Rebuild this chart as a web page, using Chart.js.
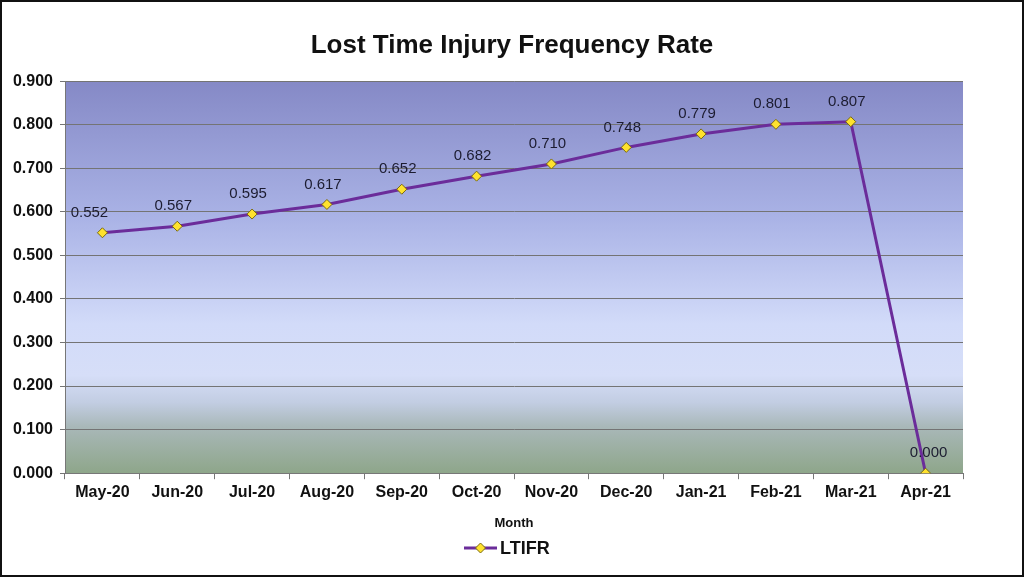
<!DOCTYPE html>
<html>
<head>
<meta charset="utf-8">
<script src="https://cdn.jsdelivr.net/npm/chart.js@4.4.1/dist/chart.umd.min.js"></script>
<style>
  html, body { margin: 0; padding: 0; background: #fff; }
  #wrap { width: 1024px; height: 577px; box-sizing: border-box; border: 2px solid #111; position: relative; }
  canvas { display: block; }
</style>
</head>
<body>
<div id="wrap"><canvas id="ltifrChart" width="1020" height="573"></canvas></div>
<script>
// data
const months = ['May-20', 'Jun-20', 'Jul-20', 'Aug-20', 'Sep-20', 'Oct-20', 'Nov-20', 'Dec-20', 'Jan-21', 'Feb-21', 'Mar-21', 'Apr-21'];
const ltifr = [0.552, 0.567, 0.595, 0.617, 0.652, 0.682, 0.710, 0.748, 0.779, 0.801, 0.807, 0.000];
const seriesName = 'LTIFR';
const chartTitle = 'Lost Time Injury Frequency Rate';

const lineColor = '#6b2c9a';
const markerFill = '#ffe22e';
const markerEdge = '#7a6a10';
const FONT = '"Liberation Sans", Arial, sans-serif';

// gradient background behind the plot
const plotBackground = {
    id: 'plotBackground',
    beforeDraw(chart) {
        const { ctx, chartArea: a } = chart;
        const g = ctx.createLinearGradient(0, a.top, 0, a.bottom);
        g.addColorStop(0, '#8589c6');
        g.addColorStop(0.35, '#aab3e6');
        g.addColorStop(0.62, '#d2dbf9');
        g.addColorStop(0.75, '#d6def8');
        g.addColorStop(0.82, '#c2cde2');
        g.addColorStop(0.88, '#a9b8b9');
        g.addColorStop(1, '#8ea68a');
        ctx.save();
        ctx.fillStyle = g;
        ctx.fillRect(a.left, a.top, a.right - a.left, a.bottom - a.top);
        ctx.restore();
    }
};

// value labels above each point
const valueLabels = {
    id: 'valueLabels',
    afterDatasetsDraw(chart) {
        const { ctx } = chart;
        const meta = chart.getDatasetMeta(0);
        ctx.save();
        ctx.font = '15px ' + FONT;
        ctx.fillStyle = '#1c1c30';
        ctx.textAlign = 'center';
        ctx.textBaseline = 'middle';
        meta.data.forEach((pt, i) => {
            let dx = -4;
            if (i === 0) dx = -13;
            if (i === meta.data.length - 1) dx = 3;
            ctx.fillText(ltifr[i].toFixed(3), pt.x + dx, pt.y - 20);
        });
        ctx.restore();
    }
};

// title centred on the whole picture (the built-in one only reserves the space)
const pageTitle = {
    id: 'pageTitle',
    afterDraw(chart) {
        const { ctx } = chart;
        const t = chart.titleBlock;
        ctx.save();
        ctx.fillStyle = '#111';
        ctx.font = 'bold 26px ' + FONT;
        ctx.textAlign = 'center';
        ctx.textBaseline = 'middle';
        ctx.fillText(chartTitle, chart.width / 2, t.top + 28 + 15.6);
        ctx.restore();
    }
};

// legend drawn by hand: line with diamond, then the name
const legendBox = {
    id: 'legendBox',
    afterDraw(chart) {
        const { ctx, chartArea: a } = chart;
        const cx = (a.left + a.right) / 2;
        const y = 546;
        const x0 = cx - 50;
        ctx.save();
        ctx.strokeStyle = lineColor; ctx.lineWidth = 3;
        ctx.beginPath(); ctx.moveTo(x0, y); ctx.lineTo(x0 + 33, y); ctx.stroke();
        ctx.fillStyle = markerFill; ctx.strokeStyle = markerEdge; ctx.lineWidth = 1;
        const mx = x0 + 16.5;
        ctx.beginPath(); ctx.moveTo(mx, y - 5); ctx.lineTo(mx + 5, y); ctx.lineTo(mx, y + 5); ctx.lineTo(mx - 5, y); ctx.closePath();
        ctx.fill(); ctx.stroke();
        ctx.fillStyle = '#111';
        ctx.font = 'bold 18px ' + FONT;
        ctx.textAlign = 'left';
        ctx.textBaseline = 'middle';
        ctx.fillText(seriesName, x0 + 36, y + 1);
        ctx.restore();
    }
};

new Chart(document.getElementById('ltifrChart').getContext('2d'), {
    type: 'line',
    data: {
        labels: months,
        datasets: [{
            label: seriesName,
            data: ltifr,
            borderColor: lineColor,
            borderWidth: 3,
            pointStyle: 'rectRot',
            pointRadius: 5,
            pointBackgroundColor: markerFill,
            pointBorderColor: markerEdge,
            pointBorderWidth: 1,
            tension: 0
        }]
    },
    options: {
        responsive: false,
        animation: false,
        layout: { padding: { left: 6, right: 59, top: 0, bottom: 40 } },
        plugins: {
            title: {
                display: true,
                text: chartTitle,
                color: 'rgba(0,0,0,0)',
                font: { family: FONT, size: 26, weight: 'bold' },
                padding: { top: 28, bottom: 20 }
            },
            legend: { display: false },
            tooltip: { enabled: false }
        },
        scales: {
            x: {
                offset: true,
                grid: { offset: true, drawOnChartArea: false, drawTicks: true, tickLength: 6, color: '#777' },
                border: { color: '#777', width: 1 },
                ticks: {
                    color: '#111', padding: 4, maxRotation: 0,
                    font: { family: FONT, size: 16, weight: 'bold' }
                },
                title: {
                    display: true, text: 'Month', color: '#111', padding: { top: 9, bottom: 4 },
                    font: { family: FONT, size: 13, weight: 'bold' }
                }
            },
            y: {
                min: 0, max: 0.9,
                grid: { color: '#747474', lineWidth: 1, tickLength: 5 },
                border: { color: '#777', width: 1 },
                ticks: {
                    stepSize: 0.1, padding: 7, color: '#111',
                    font: { family: FONT, size: 16, weight: 'bold' },
                    callback: v => Number(v).toFixed(3)
                },
                afterFit(scale) { scale.width = 57; }
            }
        }
    },
    plugins: [plotBackground, valueLabels, pageTitle, legendBox]
});
</script>
</body>
</html>
